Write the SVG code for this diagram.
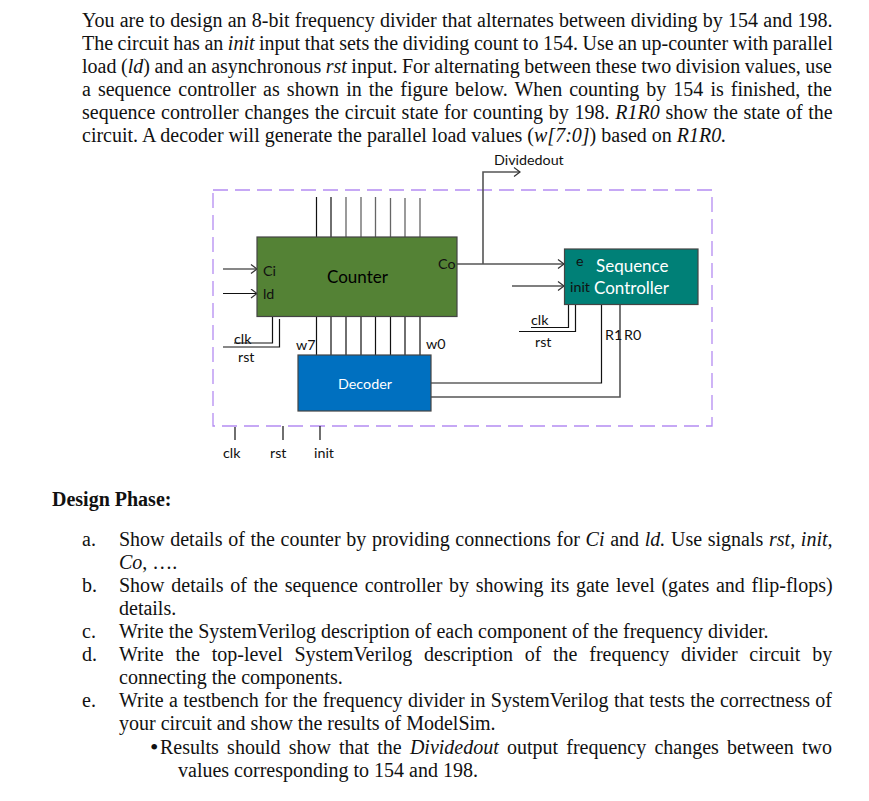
<svg xmlns="http://www.w3.org/2000/svg" width="869" height="801" viewBox="0 0 869 801">
<style>
.t{font:20px "Liberation Serif",serif;fill:#111}
.i{font-style:italic}
.b{font-weight:bold}
.s{font:14.3px Lato,"Open Sans",sans-serif;fill:#111}
.l{font:17px Lato,"Open Sans",sans-serif}
.w{fill:#fff}
.c{fill:none;stroke:#555;stroke-width:1.6}
.k{fill:none;stroke:#111;stroke-width:1.2}
.g{fill:none;stroke:#666;stroke-width:1.3}
.box{stroke:#444;stroke-width:1.2}
</style>
<defs><marker id="a" markerWidth="8" markerHeight="10" refX="7" refY="5" orient="auto" markerUnits="userSpaceOnUse"><path d="M1 0.5L7 5L1 9.5" fill="none" stroke="#333" stroke-width="1.2"/></marker></defs>
<rect width="869" height="801" fill="#fff"/>
<g id="prose">
<text class="t" x="82" y="27" word-spacing="0.25">You are to design an 8-bit frequency divider that alternates between dividing by 154 and 198.</text>
<text class="t" x="82" y="50" word-spacing="-0.47">The circuit has an <tspan class="i">init</tspan> input that sets the dividing count to 154. Use an up-counter with parallel</text>
<text class="t" x="82" y="73" word-spacing="-0.47">load (<tspan class="i">ld</tspan>) and an asynchronous <tspan class="i">rst</tspan> input. For alternating between these two division values, use</text>
<text class="t" x="82" y="96" word-spacing="2.07">a sequence controller as shown in the figure below. When counting by 154 is finished, the</text>
<text class="t" x="82" y="119" word-spacing="0.73">sequence controller changes the circuit state for counting by 198. <tspan class="i">R1R0</tspan> show the state of the</text>
<text class="t" x="82" y="142">circuit. A decoder will generate the parallel load values (<tspan class="i">w[7:0]</tspan>) based on <tspan class="i">R1R0.</tspan></text>
<text class="t b" x="52" y="506">Design Phase:</text>
<text class="t" x="82" y="546">a.</text>
<text class="t" x="119" y="546" word-spacing="0.68">Show details of the counter by providing connections for <tspan class="i">Ci</tspan> and <tspan class="i">ld.</tspan> Use signals <tspan class="i">rst, init,</tspan></text>
<text class="t" x="119" y="569"><tspan class="i">Co</tspan>, ….</text>
<text class="t" x="82" y="592">b.</text>
<text class="t" x="119" y="592" word-spacing="1.7">Show details of the sequence controller by showing its gate level (gates and flip-flops)</text>
<text class="t" x="119" y="615">details.</text>
<text class="t" x="82" y="638">c.</text>
<text class="t" x="119" y="638">Write the SystemVerilog description of each component of the frequency divider.</text>
<text class="t" x="82" y="661">d.</text>
<text class="t" x="119" y="661" word-spacing="6.75">Write the top-level SystemVerilog description of the frequency divider circuit by</text>
<text class="t" x="119" y="684">connecting the components.</text>
<text class="t" x="82" y="707">e.</text>
<text class="t" x="119" y="707" word-spacing="0.35">Write a testbench for the frequency divider in SystemVerilog that tests the correctness of</text>
<text class="t" x="119" y="730">your circuit and show the results of ModelSim.</text>
<text class="t" x="150" y="755" style="font-size:24px">•</text>
<text class="t" x="160" y="754" word-spacing="3.2">Results should show that the <tspan class="i">Dividedout</tspan> output frequency changes between two</text>
<text class="t" x="178" y="777">values corresponding to 154 and 198.</text>
</g>
<rect id="boundary" x="213" y="190" width="499" height="236" fill="none" stroke="#b48cf2" stroke-width="1.3" stroke-dasharray="15 7"/>
<g id="connectors">
<path class="k" d="M316.500 197V237M331 197V237"/>
<path class="g" d="M346 197V237M361 197V237M375.500 197V237M390.500 198V237M405 198V237M420 198V237"/>
<path class="k" d="M316.500 316V356M331 316V356M346 316V356M361 316V356M375.500 316V356M390.500 316V356M405 316V356M420 316V356"/>
<path class="k" d="M223 269H257" marker-end="url(#a)"/>
<path class="k" d="M223 293.500H257" marker-end="url(#a)"/>
<path class="k" d="M234 343H272.500V316"/>
<path class="k" d="M223 347H279.500V319"/>
<path class="c" d="M457 264H564" marker-end="url(#a)"/>
<path class="c" d="M483 264V172H520" marker-end="url(#a)"/>
<path class="c" d="M512 286H564" marker-end="url(#a)"/>
<path class="k" d="M531 327.500H568.500V304"/>
<path class="k" d="M519 331.500H575.500V304"/>
<path class="k" d="M431 383H601.500V304"/>
<path class="c" d="M431 397H620V304"/>
<path class="k" d="M235 427V440M283 426V440M320 426V440"/>
</g>
<g id="counter"><rect class="box" x="257" y="237" width="200" height="79.500" fill="#548235"/>
<text class="l" x="327" y="283">Counter</text><text class="s" x="263" y="276">Ci</text><text class="s" x="263" y="299">ld</text><text class="s" x="438" y="269">Co</text></g>
<g id="decoder"><rect class="box" x="298" y="355" width="133" height="56" fill="#0070c0"/>
<text class="s w" x="338" y="389">Decoder</text></g>
<g id="controller"><rect class="box" x="564.500" y="249" width="133.500" height="55.500" fill="#008077"/>
<text class="l w" x="596" y="272">Sequence</text><text class="l w" x="594" y="294">Controller</text><text class="s" x="576" y="266">e</text><text class="s" x="570" y="292">init</text></g>
<g id="labels">
<text class="s" x="494" y="165">Dividedout</text>
<text class="s" x="234" y="344">clk</text><text class="s" x="238" y="362">rst</text>
<text class="s" x="296" y="350">w7</text><text class="s" x="426" y="349">w0</text>
<text class="s" x="531" y="325">clk</text><text class="s" x="535" y="347">rst</text>
<text class="s" x="605" y="340">R1</text><text class="s" x="624" y="340">R0</text>
<text class="s" x="223" y="458">clk</text><text class="s" x="270" y="458">rst</text><text class="s" x="314" y="458">init</text>
</g>
</svg>
